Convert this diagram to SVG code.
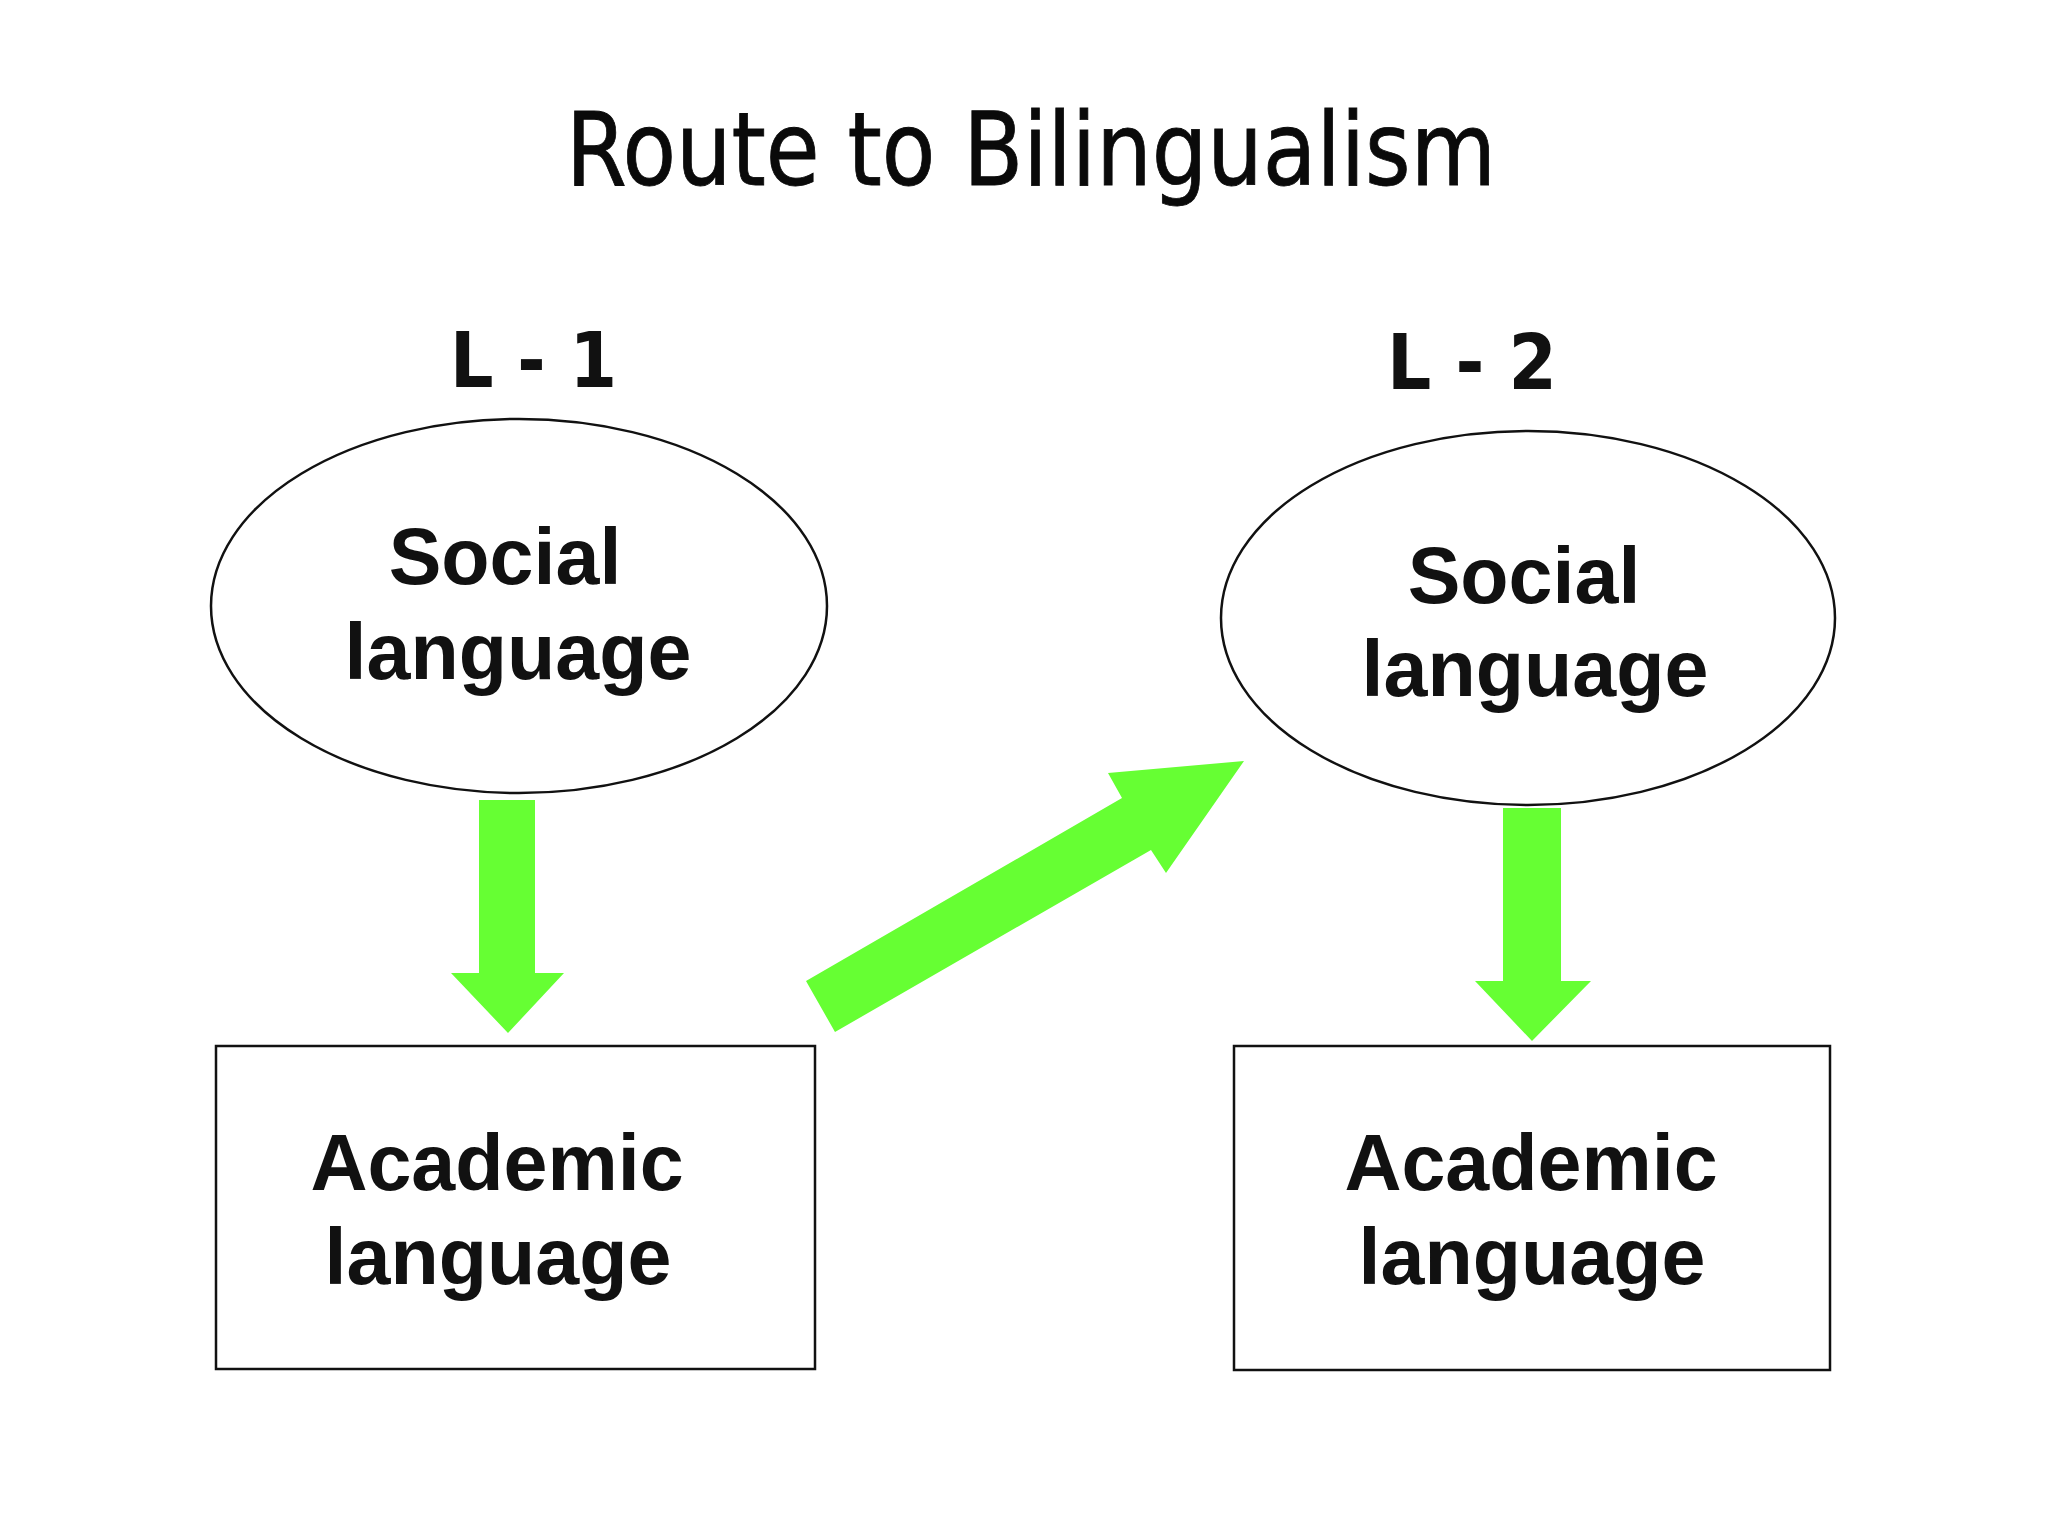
<svg xmlns="http://www.w3.org/2000/svg" width="2048" height="1536" viewBox="0 0 2048 1536">
<style>
.title{font-family:"DejaVu Sans Condensed","DejaVu Sans",sans-serif;font-size:102px;fill:#0a0a0a;stroke:#0a0a0a;stroke-width:0.8;}
.lab{font-family:"DejaVu Sans","Verdana",sans-serif;font-weight:bold;font-size:77px;fill:#111;}
.t{font-family:"Liberation Sans",Arial,sans-serif;font-weight:bold;font-size:79px;fill:#111;text-anchor:middle;}
.shape{fill:#fff;stroke:#111;stroke-width:2.5;}
.arrow{fill:#66ff33;stroke:none;}
</style>
<rect width="2048" height="1536" fill="#fff"/>
<text class="title" x="566" y="185" textLength="930" lengthAdjust="spacingAndGlyphs">Route to Bilingualism</text>
<text class="lab" x="450" y="387" textLength="167" lengthAdjust="spacingAndGlyphs">L - 1</text>
<text class="lab" x="1387" y="389" textLength="170" lengthAdjust="spacingAndGlyphs">L - 2</text>
<g id="connectors">
<polygon class="arrow" points="479,800 535,800 535,973 564,973 508,1033 451,973 479,973"/>
<polygon class="arrow" points="1503,808 1561,808 1561,981 1591,981 1532,1041 1475,981 1503,981"/>
<polygon class="arrow" points="806,981 1122,798 1108,773 1244,761 1166,873 1151,850 835,1032"/>
</g>
<g id="l1-social">
<ellipse class="shape" cx="519" cy="606" rx="308" ry="187"/>
<text class="t" x="505" y="584">Social</text>
<text class="t" x="518" y="679">language</text>
</g>
<g id="l2-social">
<ellipse class="shape" cx="1528" cy="618" rx="307" ry="187"/>
<text class="t" x="1524" y="603">Social</text>
<text class="t" x="1535" y="696">language</text>
</g>
<g id="l1-academic">
<rect class="shape" x="216" y="1046" width="599" height="323"/>
<text class="t" x="497" y="1190">Academic</text>
<text class="t" x="498" y="1284">language</text>
</g>
<g id="l2-academic">
<rect class="shape" x="1234" y="1046" width="596" height="324"/>
<text class="t" x="1531" y="1190">Academic</text>
<text class="t" x="1532" y="1284">language</text>
</g>
</svg>
